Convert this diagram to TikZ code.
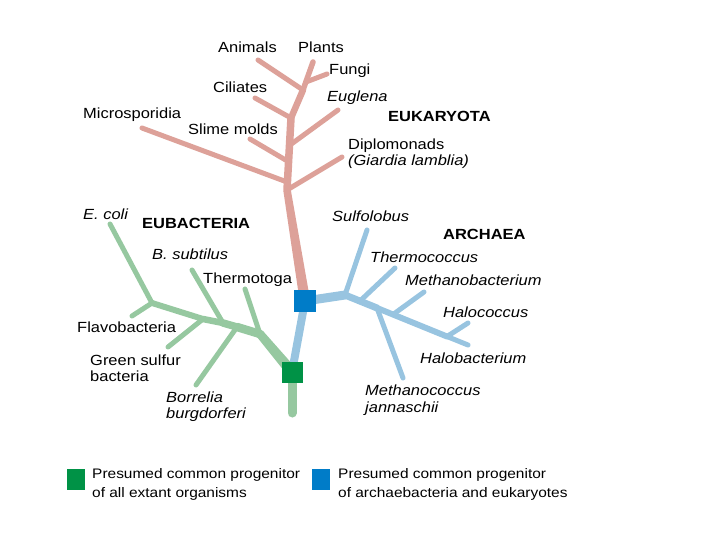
\documentclass[tikz,border=0pt]{standalone}
\usepackage{fontspec}
\usetikzlibrary{calc}
\setmainfont{Liberation Sans}[FakeStretch=1.12]
\definecolor{ekcol}{RGB}{221,161,153}
\definecolor{bacol}{RGB}{150,200,160}
\definecolor{arcol}{RGB}{152,196,224}
\definecolor{gsq}{RGB}{0,146,70}
\definecolor{bsq}{RGB}{0,124,200}
\begin{document}
\begin{tikzpicture}[x=1pt,y=-1pt,line cap=round,line join=round,
  lbl/.style={anchor=base west,inner sep=0pt,font=\fontsize{14.7}{17}\selectfont},
  ital/.style={anchor=base west,inner sep=0pt,font=\fontsize{14.7}{17}\selectfont\itshape},
  grp/.style={anchor=base west,inner sep=0pt,font=\fontsize{14.7}{17}\selectfont\bfseries},
  leg/.style={anchor=base west,inner sep=0pt,font=\fontsize{13.8}{16}\selectfont},
  rb/.style={draw=ekcol,line width=#1},
  gb/.style={draw=bacol,line width=#1},
  ab/.style={draw=arcol,line width=#1},
  sqbox/.style={inner sep=0pt,minimum size=21pt,draw=none}]
\useasboundingbox (0,0) rectangle (720,540);
% ---------- coordinates: eukaryota
\coordinate (animals) at (258,60);
\coordinate (plants) at (313,62);
\coordinate (fungi) at (327,74);
\coordinate (jF) at (306,82);
\coordinate (jA) at (303,90);
\coordinate (ciliates) at (255,98);
\coordinate (jC) at (291,118);
\coordinate (euglena) at (338,110);
\coordinate (jE) at (290,145);
\coordinate (slime) at (250,139);
\coordinate (jS) at (289,162);
\coordinate (micro) at (142,128);
\coordinate (jM) at (287,182);
\coordinate (diplo) at (342,157);
\coordinate (jD) at (287,190);
% ---------- eubacteria
\coordinate (ecoli) at (110,224);
\coordinate (jEc) at (152,303);
\coordinate (flavo) at (132,316);
\coordinate (jGs) at (203,319);
\coordinate (gsulf) at (168,347);
\coordinate (jBs) at (223,323);
\coordinate (bsub) at (192,270);
\coordinate (jBo) at (237,327);
\coordinate (borr) at (196,385);
\coordinate (jTh) at (260,334);
\coordinate (thermo) at (245,289);
\coordinate (gbot) at (292,413);
% ---------- archaea
\coordinate (jSu) at (345,295);
\coordinate (sulfo) at (367,230);
\coordinate (jTc) at (360,301);
\coordinate (thermoc) at (395,268);
\coordinate (jMc) at (377,308);
\coordinate (methc) at (403,378);
\coordinate (jMb) at (393,314.5);
\coordinate (methb) at (424,292);
\coordinate (jHc) at (447,336.5);
\coordinate (haloc) at (468,323);
\coordinate (halob) at (468,345);
% ---------- squares (positions)
\coordinate (pG) at (292,372);
\coordinate (pB) at (305,301);
% ---------- green branches
\draw[gb=5] (ecoli) -- (jEc);
\draw[gb=5] (flavo) -- (jEc);
\draw[gb=5] (gsulf) -- (jGs);
\draw[gb=5] (bsub) -- (jBs);
\draw[gb=5] (borr) -- (jBo);
\draw[gb=5] (thermo) -- (jTh);
\draw[gb=6] (jEc) -- (jGs);
\draw[gb=6.5] (jGs) -- (jBs);
\draw[gb=7.5] (jBs) -- (jBo);
\draw[gb=8.5] (jBo) -- (jTh);
\fill[bacol] ($(jTh)!4.25pt!90:(pG)$) -- ($(pG)!5.5pt!-90:(jTh)$)
   -- ($(pG)!5.5pt!90:(jTh)$) -- ($(jTh)!4.25pt!-90:(pG)$) -- cycle;
\fill[bacol] (jTh) circle[radius=4.25pt];
\draw[gb=9] (pG) -- (gbot);
% ---------- blue branches
\draw[ab=8] (pB) -- (pG);
\draw[ab=9] (pB) -- (jSu);
\draw[ab=5] (sulfo) -- (jSu);
\draw[ab=7] (jSu) -- (jMc);
\draw[ab=6] (jMc) -- (jHc);
\draw[ab=5] (jHc) -- (halob);
\draw[ab=5] (thermoc) -- (jTc);
\draw[ab=5] (methb) -- (jMb);
\draw[ab=5] (methc) -- (jMc);
\draw[ab=5] (haloc) -- (jHc);
% ---------- red branches
\draw[rb=5] (animals) -- (jA);
\draw[rb=5] (fungi) -- (jF);
\draw[rb=5] (ciliates) -- (jC);
\draw[rb=5] (euglena) -- (jE);
\draw[rb=5] (slime) -- (jS);
\draw[rb=5] (micro) -- (jM);
\draw[rb=5] (diplo) -- (jD);
\draw[rb=5.5] (plants) -- (jA);
\draw[rb=6.5] (jA) -- (jC);
\draw[rb=7.5] (jC) -- (jD);
\fill[ekcol] ($(jD)!3.75pt!90:(pB)$) -- ($(pB)!5.25pt!-90:(jD)$)
   -- ($(pB)!5.25pt!90:(jD)$) -- ($(jD)!3.75pt!-90:(pB)$) -- cycle;
% ---------- squares
\node[sqbox,fill=bsq,minimum size=22pt] (blue) at (pB) {};
\node[sqbox,fill=gsq] (green) at (pG) {};
% ---------- labels
\node[lbl] (tAnimals) at (218,53) {Animals};
\node[lbl] (tPlants) at (298,53) {Plants};
\node[lbl] (tFungi) at (329,75) {Fungi};
\node[lbl] (tCiliates) at (213,93) {Ciliates};
\node[ital] (tEuglena) at (327,102) {Euglena};
\node[lbl] (tMicro) at (83,119) {Microsporidia};
\node[lbl] (tSlime) at (188,135) {Slime molds};
\node[grp] (tEuk) at (388,122) {EUKARYOTA};
\node[lbl] (tDiplo) at (348,150) {Diplomonads};
\node[ital] (tGiardia) at (348,166) {(Giardia lamblia)};
\node[ital] (tEcoli) at (83,219) {E. coli};
\node[grp] (tEub) at (142,229) {EUBACTERIA};
\node[ital] (tBsub) at (152,259) {B. subtilus};
\node[lbl] (tThermo) at (203,283) {Thermotoga};
\node[lbl] (tFlavo) at (77,332) {Flavobacteria};
\node[lbl] (tGs1) at (90,365) {Green sulfur};
\node[lbl] (tGs2) at (90,381) {bacteria};
\node[ital] (tBo1) at (166,402) {Borrelia};
\node[ital] (tBo2) at (166,418) {burgdorferi};
\node[ital] (tSulfo) at (332,222) {Sulfolobus};
\node[grp] (tArch) at (443,240) {ARCHAEA};
\node[ital] (tThermoc) at (370,262) {Thermococcus};
\node[ital] (tMethb) at (405,285) {Methanobacterium};
\node[ital] (tHaloc) at (443,317) {Halococcus};
\node[ital] (tHalob) at (420,363) {Halobacterium};
\node[ital] (tMc1) at (365,395) {Methanococcus};
\node[ital] (tMc2) at (365,412) {jannaschii};
% ---------- legend
\node[sqbox,fill=gsq,minimum width=18pt,minimum height=21pt] (lgG) at (76,479) {};
\node[leg] (lgG1) at (92,478) {Presumed common progenitor};
\node[leg] (lgG2) at (92,497) {of all extant organisms};
\node[sqbox,fill=bsq,minimum width=18pt,minimum height=21pt] (lgB) at (320.5,479) {};
\node[leg] (lgB1) at (338,478) {Presumed common progenitor};
\node[leg] (lgB2) at (338,497) {of archaebacteria and eukaryotes};
\end{tikzpicture}
\end{document}
